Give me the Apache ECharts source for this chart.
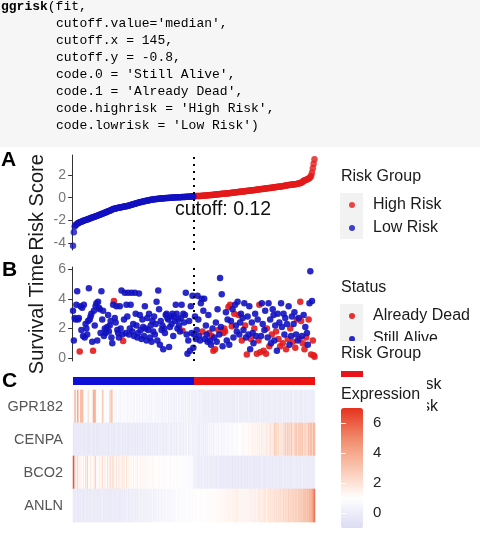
<!DOCTYPE html>
<html><head><meta charset="utf-8">
<script src="https://cdn.jsdelivr.net/npm/echarts@6/dist/echarts.min.js"></script>
<style>html,body{margin:0;padding:0;background:#fff}#c{width:480px;height:538px}</style>
</head><body><div id="c"></div>
<script>
// ---- data ----
const riskScore = [
-4.25,-3.05,-2.55,-2.45,-2.38,-2.3,-2.26,-2.22,-2.18,-2.15,
-2.12,-2.09,-2.06,-2.03,-2.0,-1.98,-1.95,-1.93,-1.9,-1.87,
-1.84,-1.81,-1.78,-1.76,-1.73,-1.7,-1.68,-1.65,-1.62,-1.6,
-1.57,-1.54,-1.5,-1.48,-1.45,-1.42,-1.39,-1.36,-1.33,-1.3,
-1.27,-1.24,-1.21,-1.18,-1.15,-1.12,-1.08,-1.04,-1.0,-0.98,
-0.97,-0.95,-0.94,-0.92,-0.9,-0.89,-0.87,-0.85,-0.84,-0.82,
-0.81,-0.79,-0.78,-0.76,-0.75,-0.73,-0.71,-0.69,-0.67,-0.65,
-0.62,-0.6,-0.58,-0.56,-0.53,-0.51,-0.49,-0.47,-0.45,-0.42,
-0.4,-0.38,-0.37,-0.35,-0.34,-0.32,-0.3,-0.29,-0.27,-0.25,
-0.24,-0.22,-0.21,-0.19,-0.18,-0.16,-0.15,-0.14,-0.13,-0.12,
-0.11,-0.11,-0.1,-0.09,-0.08,-0.07,-0.07,-0.06,-0.05,-0.05,
-0.04,-0.03,-0.03,-0.02,-0.02,-0.01,-0.01,0,0,0.01,
0.01,0.02,0.02,0.03,0.03,0.04,0.04,0.05,0.05,0.05,
0.06,0.06,0.07,0.07,0.07,0.08,0.08,0.08,0.09,0.09,
0.1,0.1,0.1,0.11,0.11,0.13,0.13,0.14,0.14,0.15,
0.15,0.15,0.16,0.16,0.17,0.17,0.18,0.18,0.19,0.19,
0.2,0.21,0.22,0.22,0.23,0.24,0.25,0.25,0.26,0.27,
0.28,0.28,0.29,0.3,0.31,0.31,0.32,0.33,0.34,0.34,
0.35,0.36,0.37,0.37,0.38,0.39,0.4,0.4,0.41,0.42,
0.43,0.44,0.45,0.46,0.47,0.48,0.49,0.5,0.51,0.52,
0.52,0.53,0.54,0.55,0.56,0.57,0.58,0.59,0.6,0.61,
0.62,0.62,0.63,0.64,0.65,0.66,0.67,0.68,0.69,0.7,
0.71,0.72,0.73,0.74,0.75,0.76,0.77,0.78,0.79,0.8,
0.81,0.82,0.83,0.84,0.85,0.86,0.87,0.88,0.89,0.9,
0.91,0.92,0.93,0.94,0.95,0.96,0.97,0.98,0.99,1.0,
1.01,1.02,1.04,1.05,1.06,1.08,1.1,1.11,1.12,1.13,
1.14,1.15,1.16,1.17,1.18,1.19,1.2,1.21,1.22,1.24,
1.26,1.28,1.3,1.33,1.37,1.42,1.5,1.52,1.55,1.58,
1.62,1.66,1.7,1.75,1.82,1.95,2.2,2.6,3.0,3.4];

const survivalTime = [
3.2,1.2,2.7,2.6,3.6,4.5,2.6,2.7,0.45,3.5,
1.9,3.4,1.5,3.6,1.4,2.3,2.0,1.6,2.5,4.7,
2.6,2.8,3.0,1.1,0.5,3.2,2.2,3.5,3.7,1.2,
3.8,3.4,3.3,1.7,4.5,2.6,3.2,1.5,2.0,1.7,
1.9,2.1,2.9,1.8,2.2,2.5,1.4,1.0,3.6,3.85,
2.7,2.4,3.5,1.9,1.7,1.4,3.5,2.0,4.55,1.6,
1.15,2.6,4.4,1.7,3.6,2.8,4.4,1.6,2.0,3.6,
4.4,1.8,2.3,1.5,4.4,3.0,2.2,1.4,1.7,4.35,
2.9,1.9,1.3,2.6,2.1,1.5,3.5,2.0,1.2,2.7,
1.9,3.0,1.4,2.2,1.1,2.5,1.8,2.8,1.6,2.3,
3.8,1.2,4.55,3.3,0.9,2.5,1.9,2.2,0.6,2.0,
1.7,2.9,3.0,2.7,2.6,0.75,2.1,2.8,2.3,3.0,
1.5,2.8,2.5,3.6,3.0,2.0,2.6,2.2,1.8,2.7,
3.6,1.85,3.0,2.4,2.9,4.4,1.6,0.3,1.2,2.5,
0.5,3.5,1.7,4.2,0.7,1.6,2.8,1.3,1.9,4.2,
2.6,1.5,1.2,3.7,4.0,1.8,3.2,4.0,1.3,2.2,
1.6,1.1,2.9,1.7,1.2,0.9,1.5,2.0,0.5,1.4,
0.6,2.4,1.1,3.3,1.9,1.6,5.4,2.1,4.3,0.8,
1.7,2.0,1.8,3.1,1.2,2.6,3.45,0.9,3.6,2.5,
2.15,3.3,1.4,3.0,3.6,2.2,1.8,3.8,2.9,1.6,
2.4,3.0,1.2,2.7,1.9,3.7,2.2,1.4,0.25,2.8,
1.6,3.5,0.6,1.3,2.4,1.7,1.0,2.0,3.0,1.5,
0.3,2.6,1.2,3.6,0.4,1.5,3.7,2.3,0.5,1.9,
3.2,0.3,2.0,1.4,3.7,0.8,2.6,1.0,1.6,3.3,
2.9,1.2,2.2,1.8,0.5,3.0,1.3,2.4,0.8,3.7,
2.1,1.0,3.0,1.6,2.7,0.6,2.3,1.3,3.5,0.9,
2.0,1.5,2.8,1.1,2.3,3.1,0.7,1.6,2.6,1.2,
2.7,1.3,3.8,2.5,1.5,1.0,2.9,0.6,2.1,1.4,
1.7,0.9,2.6,3.7,5.85,0.25,3.85,1.2,0.2,0.1];

// 1 = Already Dead, 0 = Still Alive
const status = [
0,0,0,0,0,0,0,0,1,0, 0,0,0,0,0,0,0,0,0,0, 0,0,0,0,1,0,0,0,0,0,
0,0,0,0,0,0,0,0,0,0, 0,0,0,0,0,0,0,0,0,1, 0,0,0,0,0,0,0,0,0,0,
1,0,0,0,0,0,0,0,0,0, 0,0,0,0,0,0,0,0,0,0, 0,0,0,0,0,0,0,0,0,0,
0,0,0,0,0,0,0,0,0,0, 0,0,0,0,0,0,0,0,0,0, 0,0,0,0,0,0,0,0,0,0,
0,0,0,0,0,0,0,0,0,0, 0,1,0,0,0,0,0,0,0,0, 0,0,0,0,0,0,0,0,0,0,
0,0,0,0,0,1,0,0,0,0, 0,0,0,1,0,0,1,0,1,0, 1,0,0,0,1,0,0,0,0,0,
1,1,1,0,0,0,1,0,1,0, 1,0,0,1,0,0,0,0,1,0, 0,0,1,0,0,0,1,0,1,0,
0,0,0,1,0,0,0,1,0,0, 1,0,1,1,1,0,0,0,1,0, 0,1,1,0,0,1,0,0,1,0,
0,0,0,1,0,0,1,0,1,0, 0,1,0,0,0,1,0,1,0,0, 1,0,0,1,0,0,1,0,1,0,
0,1,1,1,0,1,0,1,0,1, 0,0,1,0,0,1,0,1,1,1];

const genes = ['GPR182','CENPA','BCO2','ANLN'];
const exprGPR182 = [
1.2,0.8,3.9,3.0,1.0,4.2,3.4,1.3,0.9,4.0, 3.2,3.7,2.4,1.0,0.8,1.1,0.7,1.2,2.6,0.9,
0.8,1.0,0.6,1.3,3.9,3.4,4.1,3.2,1.0,0.9, 0.8,1.1,0.7,1.0,1.3,2.9,2.5,0.9,0.8,1.1,
0.7,1.0,0.9,1.2,3.0,2.2,3.2,2.6,0.9,0.8, 0.6,0.9,0.4,1.0,0.7,0.5,0.9,0.3,0.8,0.6,
1.0,0.4,0.7,0.6,0.9,0.3,0.8,0.5,1.0,0.4, 0.6,0.9,0.3,0.7,0.5,1.0,0.4,0.6,0.8,0.3,
0.7,0.5,0.9,0.2,0.6,0.8,0.4,0.7,0.3,0.9, 0.5,0.2,0.8,0.6,0.3,0.7,0.5,0.9,0.2,0.6,
0.4,0.7,0.2,0.5,0.8,0.3,0.6,0.1,0.7,0.4, 0.2,0.6,0.4,0.8,0.1,0.5,0.3,0.7,0.2,0.5,
0.3,0.1,0.6,0.4,0.2,0.7,0.1,0.5,0.3,0.6, 0.2,0.4,0.1,0.5,0.3,0.1,0.6,0.2,0.4,0.1,
0.3,0.5,0.1,0.2,0.4,0.1,0.3,0,0.2,0.5, 0.1,0,0.3,0.1,0.4,0,0.2,0.1,0,0.3,
0,0.2,0,0.1,0.4,0,0,0.2,0,0.1, 0.3,0,0.1,0,0,0.5,0,0.1,0,0.2,
0,0,0.3,0,0.1,0,0,0.4,0,0, 0.2,0,0,0.1,0,0.3,0,0,0.5,0,
0,0.1,0,0,0.3,0,0.2,0,0,0.1, 0.4,0,0,0.2,0,0,0.1,0,0.3,0,
0,0.2,0,0,0.5,0,0,0.1,0,0.2, 0,0,0.3,0,0.1,0,0,0.4,0,0,
0.2,0,0,0.1,0,0.3,0,0,0.2,0, 0,0.4,0,0,0.1,0,0.2,0,0,0.3,
0,0,0.1,0,0.5,0,0,0.2,0,0, 0.3,0,0,0.1,0,0,0.4,0,0.1,0,
0,0.2,0,0,0.3,0,0.1,0,0,0.2];
const exprCENPA = [
-0.2,-0.3,-0.1,-0.3,-0.2,0,-0.3,-0.2,-0.1,-0.3, -0.2,0.1,-0.3,-0.2,-0.1,-0.3,0,-0.2,-0.3,-0.1,
-0.3,-0.2,0.2,-0.1,-0.3,-0.2,-0.1,0.1,-0.3,-0.2, -0.1,-0.3,-0.2,0,-0.3,-0.1,-0.2,0.2,-0.3,-0.2,
-0.2,0,-0.3,-0.1,-0.2,0.3,-0.3,-0.1,-0.2,0, -0.3,-0.1,0.2,-0.2,-0.3,0,-0.1,-0.2,0.3,-0.3,
-0.1,0.2,-0.2,-0.3,0.1,-0.1,-0.2,0,-0.3,0.2, -0.2,-0.1,0.3,-0.2,0,-0.3,0.1,-0.1,-0.2,0.2,
0,-0.2,0.1,-0.3,0.3,-0.1,0,-0.2,0.2,-0.1, -0.2,0.3,0,-0.1,0.2,-0.2,0.4,0,-0.1,0.2,
0.1,-0.1,0.3,0,0.5,-0.1,0.2,0.1,-0.2,0.4, 0,0.2,-0.1,0.3,0.1,0.6,0,0.2,-0.1,0.4,
0.2,0,0.5,0.1,-0.1,0.3,0.7,0,0.2,0.4, 0.1,0.5,0,0.3,0.6,0.1,0.2,0.8,0,0.3,
0.5,0.2,0.7,0.1,0.4,0,0.3,0.6,0.1,0.2, -0.1,0.2,0,0.5,0.1,0.3,-0.1,0.6,0.2,0,
0.4,0.1,0.7,0.2,0.3,0.9,0.1,0.5,0.2,0.8, 0.3,1.0,0.4,0.6,0.2,0.9,0.5,1.1,0.3,0.7,
0.6,0.4,1.0,0.7,0.5,1.2,0.6,0.8,1.0,0.5, 0.9,0.7,1.1,0.6,1.0,0.8,1.3,0.7,1.0,0.9,
1.0,1.2,0.8,1.1,1.4,0.9,1.0,1.3,1.1,0.9, 1.3,1.1,1.5,1.0,1.2,1.6,1.1,1.4,1.2,1.7,
1.2,1.5,1.3,1.8,1.1,1.4,2.0,1.3,1.6,1.2, 1.7,1.4,2.1,1.5,1.3,1.9,1.6,2.2,1.4,1.8,
1.5,2.7,3.0,1.6,2.8,1.9,2.5,1.5,2.0,1.7, 2.2,1.6,2.4,1.8,3.0,2.6,1.7,3.2,2.3,2.9,
1.8,2.7,3.1,2.0,1.7,2.6,2.2,3.3,2.8,1.9, 3.0,2.4,3.4,2.1,2.9,3.2,1.9,2.5,2.3,2.8,
2.0,2.6,3.3,2.4,3.6,2.9,3.5,2.2,3.8,3.4];
const exprBCO2 = [
6.5,5.8,1.4,2.2,1.2,2.8,1.6,1.1,1.9,1.3, 1.3,1.0,2.0,1.1,0.9,2.6,1.4,2.9,1.0,1.3,
1.0,2.0,1.1,0.9,1.6,1.0,2.4,2.7,1.2,1.0, 1.3,1.0,2.1,1.0,1.6,2.5,1.1,1.0,1.9,1.2,
1.1,2.2,1.4,1.1,2.3,2.0,1.3,1.9,2.4,1.2, 1.5,1.1,2.1,1.4,1.2,2.2,1.0,1.6,1.3,2.0,
1.1,1.9,1.3,1.0,2.1,1.2,1.6,1.0,1.5,1.1, 1.3,1.0,1.7,1.2,1.0,1.5,1.1,1.6,1.0,1.2,
1.2,1.5,1.1,1.4,1.3,1.0,1.6,1.2,1.1,1.4, 1.0,1.2,1.3,0.9,1.1,1.4,1.0,1.2,0.9,1.1,
1.0,0.9,1.1,1.2,0.8,1.0,1.1,0.9,1.0,1.3, 0.9,1.0,0.8,1.1,1.0,0.9,1.2,0.8,1.0,0.9,
1.1,0.8,1.0,0.9,1.1,0.7,1.0,0.9,0.8,1.0, 0.8,1.0,0.7,0.9,0.8,1.0,0.6,0.9,0.8,0.7,
0.9,0.6,0.8,0.7,0.5,0.3,0.1,0.4,0,0.2, -0.1,0.3,0,0.2,-0.2,0.1,0.4,-0.1,0.2,0,
0.1,-0.2,0.3,0,-0.1,0.2,-0.3,0.1,0,0.3, -0.2,0.1,-0.3,0,0.2,-0.2,0.1,-0.3,-0.1,0,
-0.3,-0.1,0.1,-0.3,-0.2,0,-0.3,-0.1,0.2,-0.2, 0,-0.3,-0.2,0.1,-0.3,-0.1,0,-0.2,-0.3,0.1,
-0.2,0,-0.3,-0.1,0.2,-0.3,-0.2,0,-0.1,-0.3, 0.1,-0.2,0,-0.3,-0.1,0.1,-0.2,-0.3,0,-0.1,
-0.3,0.1,-0.2,0,-0.3,-0.1,0.2,-0.2,0,-0.3, 0,-0.1,-0.3,0.2,-0.2,0,-0.3,-0.1,0.1,-0.2,
-0.1,0.2,0,-0.3,-0.1,0.1,-0.2,0,-0.3,0.1, -0.2,0,0.2,-0.1,-0.3,0,0.1,-0.2,0,-0.1,
0.1,-0.3,0,-0.1,0.2,-0.2,0,0.1,-0.3,0, -0.1,0.1,-0.2,0,-0.1,0.3,-0.2,0,0.1,-0.3,
0,-0.2,0.1,-0.3,0,0.2,-0.1,0,-0.2,0.1];
const exprANLN = [
-0.2,0,-0.3,-0.1,0.2,-0.3,-0.2,0,-0.1,-0.3, 0.1,-0.2,-0.3,0,-0.1,0.2,-0.3,-0.2,0.1,-0.1,
-0.3,0,-0.2,0.2,-0.1,-0.3,0.1,-0.2,0,-0.3, -0.1,0.2,-0.3,-0.2,0,0.3,-0.1,-0.3,0.1,-0.2,
0,-0.3,0.2,-0.1,-0.2,0.1,-0.3,0,0.3,-0.1, -0.2,0.1,-0.1,0.3,-0.3,0,0.2,-0.2,0.1,0,
0.3,-0.1,0,0.2,-0.2,0.4,-0.1,0.1,0,0.3, 0,0.2,-0.1,0.4,0.1,0,0.3,-0.1,0.2,0.5,
0.1,0.3,0,0.5,0.2,0.1,0.6,0,0.3,0.2, 0.4,0.1,0.6,0.2,0.3,0.7,0.1,0.4,0.2,0.6,
0.3,0.7,0.2,0.5,0.8,0.3,0.6,0.4,0.9,0.3, 0.6,0.4,0.8,0.5,0.3,0.9,0.6,0.4,0.7,0.5,
0.8,0.5,0.9,0.6,1.0,0.7,0.5,0.9,0.7,1.0, 0.6,0.9,0.7,1.1,0.8,0.6,1.0,0.8,0.9,1.1,
0.7,1.0,0.9,0.8,1.1,0.9,1.0,1.2,0.9,1.0, 1.1,0.9,1.0,1.2,0.9,1.1,1.0,0.9,1.2,1.0,
1.0,1.2,0.9,1.1,1.0,1.3,1.0,1.1,0.9,1.2, 1.1,1.0,1.3,1.1,1.2,1.0,1.4,1.1,1.2,1.3,
1.2,1.4,1.1,1.3,1.5,1.2,1.3,1.6,1.2,1.4, 1.3,1.5,1.2,1.6,1.4,1.3,1.7,1.4,1.5,1.3,
1.3,1.2,1.5,1.3,1.4,1.2,1.6,1.3,1.2,1.5, 1.3,1.6,1.3,1.4,1.7,1.3,1.5,1.4,1.8,1.3,
1.5,1.4,1.8,1.6,1.4,1.9,1.5,1.7,1.6,2.0, 1.6,1.9,1.5,1.7,2.1,1.6,1.8,2.2,1.7,1.9,
1.8,2.2,1.7,2.0,2.3,1.8,2.1,1.9,2.4,2.0, 2.1,1.9,2.5,2.2,2.0,2.6,2.1,2.3,2.7,2.2,
2.4,2.2,2.7,2.3,2.8,2.5,2.3,2.9,2.6,2.4, 2.7,3.0,2.5,2.8,3.1,2.7,3.2,2.9,3.3,3.0,
3.1,3.4,3.2,3.6,3.3,3.7,4.0,4.4,4.9,5.4];

const scoreTicks = [-4,-2,0,2];
const timeTicks = [0,2,4,6];
const exprTicks = [0,2,4,6];
const riskLabels = ['High Risk','Low Risk'];
const statusLabels = ['Already Dead','Still Alive'];

// ---- derived ----
const n = riskScore.length;
const sorted = riskScore.slice().sort((a,b)=>a-b);
const cutoff = (sorted[Math.floor((n-1)/2)] + sorted[Math.ceil((n-1)/2)]) / 2;
const highPts = [], lowPts = [], deadPts = [], alivePts = [];
riskScore.forEach((s,i)=>{ (s > cutoff ? highPts : lowPts).push([i+1, s]); });
survivalTime.forEach((t,i)=>{ (status[i] === 1 ? deadPts : alivePts).push([i+1, t]); });
const nLow = lowPts.length, nHigh = highPts.length;
function padRange(arr){ const lo=Math.min(...arr), hi=Math.max(...arr), p=(hi-lo)*0.05; return [lo-p, hi+p]; }
const sR = padRange(riskScore), tR = padRange(survivalTime);
const exprRows = [exprGPR182, exprCENPA, exprBCO2, exprANLN];
const nCols = Math.max(...exprRows.map(r=>r.length));
const colIds = Array.from({length:nCols},(_,i)=>String(i+1));
const heatData = [];
exprRows.forEach((row,g)=>row.forEach((v,i)=>heatData.push([i,g,v])));

const RED = '#E31A1C', BLUE = '#1212C0';
const FONT = '"Liberation Sans", Arial, sans-serif';
const MONO = '"Liberation Mono", "DejaVu Sans Mono", monospace';

// code block text
const codeLines = [
 [['ggrisk','fn'],['(fit,','tx']],
 [['cutoff.value=','tx'],["'median'",'str'],[',','tx']],
 [['cutoff.x = ','tx'],['145','num'],[',','tx']],
 [['cutoff.y = ','tx'],['-0.8','num'],[',','tx']],
 [['code.0 = ','tx'],["'Still Alive'",'str'],[',','tx']],
 [['code.1 = ','tx'],["'Already Dead'",'str'],[',','tx']],
 [['code.highrisk = ','tx'],["'High Risk'",'str'],[',','tx']],
 [['code.lowrisk = ','tx'],["'Low Risk'",'str'],[')','tx']]
];
const codeRich = {
 fn:{fontFamily:MONO,fontSize:13,fontWeight:'bold',color:'#222'},
 tx:{fontFamily:MONO,fontSize:13,color:'#333'},
 str:{fontFamily:MONO,fontSize:13,color:'#4f8a2f'},
 num:{fontFamily:MONO,fontSize:13,color:'#1c1c70'}
};

const graphics = [
 {type:'rect',shape:{x:0,y:0,width:480,height:147},style:{fill:'#f6f6f6'},z:0},
 ...codeLines.map((segs,k)=>({type:'text',x:k===0?1:56,y:7+17*k,z:1,
   style:{text:segs.map(([t,c])=>'{'+c+'|'+t+'}').join(''),rich:codeRich,verticalAlign:'middle',align:'left'}})),
 // panel letters
 {type:'text',x:1,y:160,z:1,style:{text:'A',font:'bold 21px '+FONT,fill:'#000',verticalAlign:'middle'}},
 {type:'text',x:2,y:270,z:1,style:{text:'B',font:'bold 21px '+FONT,fill:'#000',verticalAlign:'middle'}},
 {type:'text',x:2,y:381,z:1,style:{text:'C',font:'bold 21px '+FONT,fill:'#000',verticalAlign:'middle'}},
 // cutoff label
 {type:'text',x:175,y:210,z:5,style:{text:'cutoff: '+cutoff.toFixed(2),font:'19.5px '+FONT,fill:'#111',verticalAlign:'middle'}},
 // legend key backgrounds
 {type:'rect',shape:{x:340,y:193,width:23,height:46},style:{fill:'#f2f2f2'},z:1},
 {type:'rect',shape:{x:340,y:304,width:23,height:46},style:{fill:'#f2f2f2'},z:1},
 // legend titles
 {type:'text',x:341,y:177,z:6,style:{text:'Risk Group',font:'16px '+FONT,fill:'#1a1a1a',verticalAlign:'middle'}},
 {type:'text',x:341,y:288,z:6,style:{text:'Status',font:'16px '+FONT,fill:'#1a1a1a',verticalAlign:'middle'}},
 // heatmap legend labels (partially hidden)
 {type:'text',x:373,y:385,z:1,style:{text:'High Risk',font:'16px '+FONT,fill:'#1a1a1a',verticalAlign:'middle'}},
 {type:'text',x:373,y:407,z:1,style:{text:'Low Risk',font:'16px '+FONT,fill:'#1a1a1a',verticalAlign:'middle'}},
 // covering legend backgrounds
 {type:'rect',shape:{x:330,y:341,width:150,height:37},style:{fill:'#fff'},z:5},
 {type:'rect',shape:{x:330,y:378,width:97,height:160},style:{fill:'#fff'},z:2},
 {type:'text',x:341,y:354,z:6,style:{text:'Risk Group',font:'16px '+FONT,fill:'#1a1a1a',verticalAlign:'middle'}},
 {type:'rect',shape:{x:341,y:371,width:22,height:6},style:{fill:'#e8141a'},z:6},
 {type:'text',x:341,y:395,z:6,style:{text:'Expression',font:'16px '+FONT,fill:'#1a1a1a',verticalAlign:'middle'}}
];

const valAxisY = (gi, r, ticks, name) => ({
 gridIndex:gi,type:'value',min:r[0],max:r[1],name:name,nameLocation:'middle',nameGap:24,nameMoveOverlap:false,
 nameTextStyle:{fontSize:20,color:'#1a1a1a',fontFamily:FONT},
 axisLine:{show:true,lineStyle:{color:'#333',width:1}},
 axisTick:{show:true,length:4,lineStyle:{color:'#333'},customValues:ticks},
 axisLabel:{customValues:ticks,fontSize:14,color:'#777',margin:5,fontFamily:FONT},
 splitLine:{show:false}
});

const dotted = (x) => ({silent:true,symbol:['none','none'],label:{show:false},
 lineStyle:{type:[2,5],width:2,color:'#000',cap:'butt'},data:[{xAxis:x}],animation:false});

const option = {
 animation:false,
 textStyle:{fontFamily:FONT},
 grid:[
  {left:71,top:155,width:247,height:95},
  {left:71,top:267,width:247,height:94},
  {left:73,top:377,width:242,height:8},
  {left:73,top:390,width:242,height:132},
  {left:341,top:408,width:22,height:120}
 ],
 xAxis:[
  {gridIndex:0,type:'value',min:-1.4,max:294.2,show:false},
  {gridIndex:1,type:'value',min:-1.4,max:294.2,show:false},
  {gridIndex:2,type:'value',min:0,max:n,show:false},
  {gridIndex:3,type:'category',data:colIds,show:false},
  {gridIndex:4,type:'value',min:0,max:1,show:false}
 ],
 yAxis:[
  valAxisY(0,sR,scoreTicks,'Risk Score'),
  valAxisY(1,tR,timeTicks,'Survival Time'),
  {gridIndex:2,type:'category',data:['Risk Group'],show:false},
  {gridIndex:3,type:'category',data:genes,inverse:true,axisLine:{show:false},axisTick:{show:false},
   axisLabel:{fontSize:14.5,color:'#555',margin:10,fontFamily:FONT}},
  {gridIndex:4,type:'value',min:-1,max:7,position:'right',z:10,
   axisLine:{show:false},splitLine:{show:false},
   axisTick:{show:true,inside:true,length:5,lineStyle:{color:'#fff',width:1},customValues:exprTicks},
   axisLabel:{customValues:exprTicks,margin:10,fontSize:15,color:'#222',fontFamily:FONT}},
  {gridIndex:4,type:'value',min:-1,max:7,position:'left',z:10,
   axisLine:{show:false},splitLine:{show:false},
   axisTick:{show:true,inside:true,length:5,lineStyle:{color:'#fff',width:1},customValues:exprTicks},
   axisLabel:{show:false}}
 ],
 legend:[
  {data:riskLabels,orient:'vertical',left:349,top:197,padding:0,itemWidth:6,itemHeight:6,itemGap:7,icon:'circle',
   selectedMode:false,textStyle:{fontSize:16,color:'#1a1a1a',lineHeight:16,padding:[0,0,0,13],fontFamily:FONT}},
  {data:statusLabels,orient:'vertical',left:349,top:308,padding:0,itemWidth:6,itemHeight:6,itemGap:7,icon:'circle',
   selectedMode:false,textStyle:{fontSize:16,color:'#1a1a1a',lineHeight:16,padding:[0,0,0,13],fontFamily:FONT}}
 ],
 visualMap:{type:'continuous',seriesIndex:6,min:-1,max:7,left:341,top:408,itemWidth:22,itemHeight:120,
  padding:0,calculable:false,show:true,text:null,
  inRange:{color:['#dcdcf3','#ececf9','#ffffff','#fde2d6','#f9c6b0','#f5a98c','#f0886a','#eb5e44','#e6321e']}},
 series:[
  {name:'High Risk',type:'scatter',xAxisIndex:0,yAxisIndex:0,data:highPts,symbolSize:6.5,itemStyle:{color:RED},emphasis:{disabled:true}},
  {name:'Low Risk',type:'scatter',xAxisIndex:0,yAxisIndex:0,data:lowPts,symbolSize:6.5,itemStyle:{color:BLUE},emphasis:{disabled:true},
   markLine:dotted(nLow+0.5)},
  {name:'Already Dead',type:'scatter',xAxisIndex:1,yAxisIndex:1,data:deadPts,symbolSize:6.5,itemStyle:{color:RED,opacity:0.9},emphasis:{disabled:true}},
  {name:'Still Alive',type:'scatter',xAxisIndex:1,yAxisIndex:1,data:alivePts,symbolSize:6.5,itemStyle:{color:BLUE,opacity:0.9},emphasis:{disabled:true},
   markLine:dotted(nLow+0.5)},
  {name:'Low',type:'bar',xAxisIndex:2,yAxisIndex:2,stack:'risk',data:[nLow],barWidth:'100%',itemStyle:{color:'#0f0fd6'},emphasis:{disabled:true}},
  {name:'High',type:'bar',xAxisIndex:2,yAxisIndex:2,stack:'risk',data:[nHigh],barWidth:'100%',itemStyle:{color:'#ec1212'},emphasis:{disabled:true}},
  {name:'Expression',type:'heatmap',xAxisIndex:3,yAxisIndex:3,data:heatData,itemStyle:{borderWidth:0},emphasis:{disabled:true}}
 ],
 graphic:graphics
};
const chart = echarts.init(document.getElementById('c'), null, {renderer:'canvas'});
chart.setOption(option);
</script></body></html>
